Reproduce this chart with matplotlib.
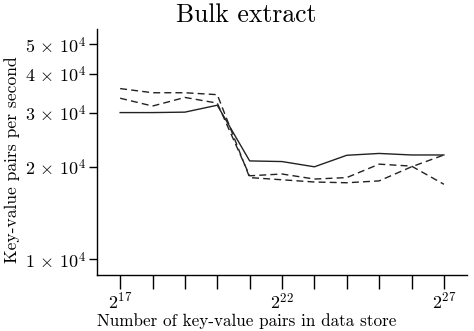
import matplotlib
matplotlib.use("Agg")
import matplotlib.pyplot as plt
import numpy as np

plt.rcParams['font.family'] = 'serif'
plt.rcParams['font.serif'] = ['cmr10']
plt.rcParams['mathtext.fontset'] = 'cm'
plt.rcParams['axes.formatter.use_mathtext'] = True

# log2 of store size
exponents = [17, 18, 19, 20, 21, 22, 23, 24, 25, 26, 27]

solid = [30000, 30000, 30100, 31700, 20900, 20800, 20000, 21800, 22100, 21850, 21850]
dashed_a = [35900, 34800, 34800, 34300, 18450, 18150, 17850, 17750, 18000, 20000, 21850]
dashed_b = [33400, 31500, 33600, 32200, 18700, 18950, 18250, 18450, 20400, 20100, 17550]

yticks = [1e4, 2e4, 3e4, 4e4, 5e4]
ytick_labels = [r'$1\,\times\,10^4$', r'$2\,\times\,10^4$', r'$3\,\times\,10^4$',
                r'$4\,\times\,10^4$', r'$5\,\times\,10^4$']
xtick_labels = {17: r'$2^{17}$', 22: r'$2^{22}$', 27: r'$2^{27}$'}

fig = plt.figure(figsize=(4.74, 3.31), dpi=100)
ax = fig.add_axes([0.205, 0.169, 0.78, 0.743])

x = [2.0 ** e for e in exponents]
ax.plot(x, solid, color='#222222', lw=1.0)
ax.plot(x, dashed_a, color='#222222', lw=1.0, ls=(0, (5, 3)))
ax.plot(x, dashed_b, color='#222222', lw=1.0, ls=(0, (5, 3)))

ax.set_xscale('log', base=2)
ax.set_yscale('log')
ax.set_xlim(2 ** 16.29, 2 ** 27.71)
ax.set_ylim(8900, 56000)

ax.set_xticks(x)
ax.set_xticklabels([xtick_labels.get(e, '') for e in exponents])
ax.set_yticks(yticks)
ax.set_yticklabels(ytick_labels)
ax.minorticks_off()

ax.tick_params(axis='x', direction='out', length=10, width=1, labelsize=13, pad=2)
ax.tick_params(axis='y', direction='out', length=6, width=1, labelsize=13, pad=2)

for s in ['top', 'right']:
    ax.spines[s].set_visible(False)
for s in ['left', 'bottom']:
    ax.spines[s].set_linewidth(1.0)

# the labels are centred on the whole plot, not on the axes
ax.set_title('Bulk extract', fontsize=18.5, pad=5, x=0.404)
ax.set_xlabel('Number of key-value pairs in data store', fontsize=12.3, labelpad=1, x=0.404)
ax.set_ylabel('Key-value pairs per second', fontsize=12.6, labelpad=3, y=0.47)

fig.savefig('out.png', dpi=100)
